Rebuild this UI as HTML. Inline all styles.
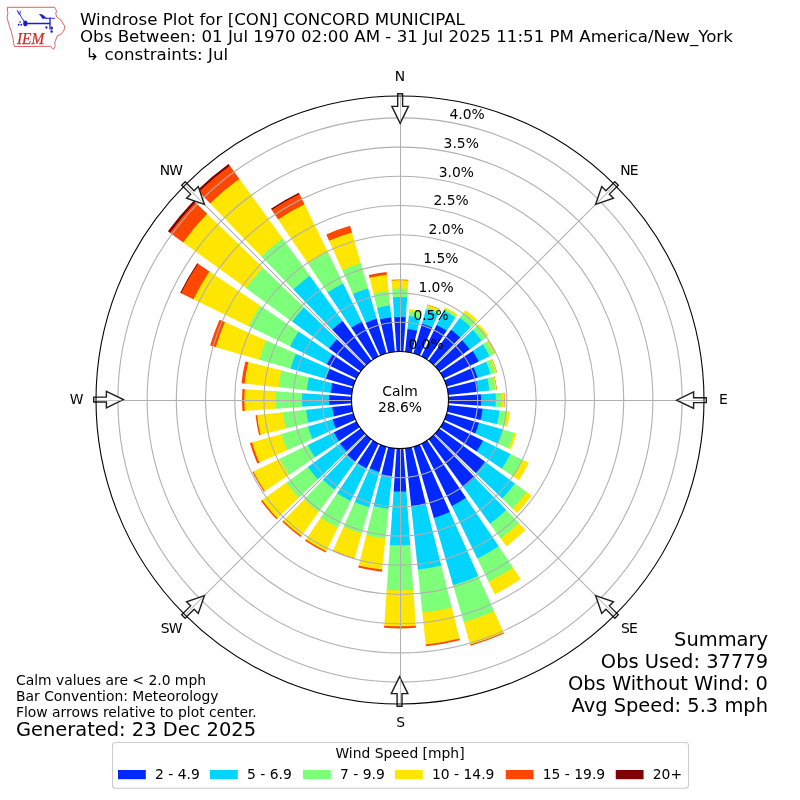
<!DOCTYPE html>
<html lang="en">
<head>
<meta charset="utf-8">
<title>Windrose Plot for [CON] CONCORD MUNICIPAL</title>
<style>
html,body{margin:0;padding:0;background:#fff;}
body{width:800px;height:800px;overflow:hidden;font-family:"DejaVu Sans","Liberation Sans",sans-serif;}
svg{display:block;}
</style>
</head>
<body>
<svg width="800" height="800" viewBox="0 0 800 800">
<rect width="800" height="800" fill="#fff"/>
<g id="bars">
<path d="M391.67 280.93A119.36 119.36 0 0 1 408.33 280.93L408.41 279.67A120.62 120.62 0 0 0 391.59 279.67Z" fill="#ff4700"/>
<path d="M392.25 289.20A111.07 111.07 0 0 1 407.75 289.20L408.36 280.43A119.86 119.86 0 0 0 391.64 280.43Z" fill="#ffe600"/>
<path d="M392.84 297.65A102.60 102.60 0 0 1 407.16 297.65L407.78 288.70A111.57 111.57 0 0 0 392.22 288.70Z" fill="#7dff7a"/>
<path d="M394.25 317.74A82.46 82.46 0 0 1 405.75 317.74L407.19 297.15A103.10 103.10 0 0 0 392.81 297.15Z" fill="#00d4ff"/>
<path d="M396.64 351.92A48.20 48.20 0 0 1 403.36 351.92L405.79 317.25A82.96 82.96 0 0 0 394.21 317.25Z" fill="#0028ff"/>
<path d="M409.34 311.14A89.35 89.35 0 0 1 421.62 313.31L422.15 311.18A91.54 91.54 0 0 0 409.57 308.96Z" fill="#ffe600"/>
<path d="M408.77 316.54A83.92 83.92 0 0 1 420.30 318.58L421.74 312.82A89.85 89.85 0 0 0 409.39 310.64Z" fill="#7dff7a"/>
<path d="M407.40 329.61A70.78 70.78 0 0 1 417.12 331.33L420.42 318.09A84.42 84.42 0 0 0 408.82 316.05Z" fill="#00d4ff"/>
<path d="M405.04 352.06A48.20 48.20 0 0 1 411.66 353.23L417.24 330.84A71.28 71.28 0 0 0 407.45 329.11Z" fill="#0028ff"/>
<path d="M427.14 305.36A98.46 98.46 0 0 1 440.05 310.05L440.37 309.33A99.25 99.25 0 0 0 427.36 304.60Z" fill="#ff4700"/>
<path d="M426.46 307.71A96.00 96.00 0 0 1 439.05 312.30L440.25 309.60A98.96 98.96 0 0 0 427.28 304.88Z" fill="#ffe600"/>
<path d="M425.71 310.35A93.26 93.26 0 0 1 437.93 314.80L439.25 311.84A96.50 96.50 0 0 0 426.60 307.23Z" fill="#7dff7a"/>
<path d="M421.76 324.11A78.95 78.95 0 0 1 432.11 327.87L438.14 314.35A93.76 93.76 0 0 0 425.84 309.87Z" fill="#00d4ff"/>
<path d="M413.29 353.67A48.20 48.20 0 0 1 419.60 355.97L432.32 327.42A79.45 79.45 0 0 0 421.90 323.63Z" fill="#0028ff"/>
<path d="M444.34 309.09A101.14 101.14 0 0 1 456.56 316.15L457.66 314.52A103.10 103.10 0 0 0 445.20 307.33Z" fill="#ffe600"/>
<path d="M443.31 311.19A98.81 98.81 0 0 1 455.25 318.08L456.84 315.73A101.64 101.64 0 0 0 444.56 308.64Z" fill="#7dff7a"/>
<path d="M436.40 325.36A83.04 83.04 0 0 1 446.44 331.16L455.53 317.67A99.31 99.31 0 0 0 443.53 310.74Z" fill="#00d4ff"/>
<path d="M421.13 356.68A48.20 48.20 0 0 1 426.95 360.04L446.71 330.74A83.54 83.54 0 0 0 436.62 324.91Z" fill="#0028ff"/>
<path d="M463.23 312.98A107.57 107.57 0 0 1 474.72 322.62L477.26 319.99A111.22 111.22 0 0 0 465.37 310.02Z" fill="#ffe600"/>
<path d="M459.45 318.17A101.14 101.14 0 0 1 470.26 327.24L475.07 322.26A108.07 108.07 0 0 0 463.52 312.57Z" fill="#7dff7a"/>
<path d="M450.70 330.22A86.25 86.25 0 0 1 459.92 337.96L470.61 326.88A101.64 101.64 0 0 0 459.74 317.77Z" fill="#00d4ff"/>
<path d="M428.33 361.01A48.20 48.20 0 0 1 433.48 365.33L460.26 337.60A86.75 86.75 0 0 0 450.99 329.82Z" fill="#0028ff"/>
<path d="M476.54 326.09A106.40 106.40 0 0 1 486.08 337.46L488.61 335.62A109.53 109.53 0 0 0 478.79 323.92Z" fill="#ffe600"/>
<path d="M472.34 330.15A100.56 100.56 0 0 1 481.35 340.89L486.48 337.17A106.90 106.90 0 0 0 476.90 325.74Z" fill="#7dff7a"/>
<path d="M461.62 340.49A85.67 85.67 0 0 1 469.31 349.65L481.76 340.60A101.06 101.06 0 0 0 472.70 329.80Z" fill="#00d4ff"/>
<path d="M434.67 366.52A48.20 48.20 0 0 1 438.99 371.67L469.71 349.35A86.17 86.17 0 0 0 461.98 340.14Z" fill="#0028ff"/>
<path d="M487.43 341.02A105.47 105.47 0 0 1 494.79 353.77L495.50 353.42A106.26 106.26 0 0 0 488.09 340.58Z" fill="#ff4700"/>
<path d="M486.42 341.71A104.24 104.24 0 0 1 493.69 354.30L495.24 353.55A105.97 105.97 0 0 0 487.85 340.74Z" fill="#ffe600"/>
<path d="M482.25 344.52A99.22 99.22 0 0 1 489.18 356.51L494.14 354.09A104.74 104.74 0 0 0 486.83 341.43Z" fill="#7dff7a"/>
<path d="M472.23 351.28A87.13 87.13 0 0 1 478.31 361.81L489.62 356.29A99.72 99.72 0 0 0 482.67 344.24Z" fill="#00d4ff"/>
<path d="M439.96 373.05A48.20 48.20 0 0 1 443.32 378.87L478.76 361.59A87.63 87.63 0 0 0 472.65 351.00Z" fill="#0028ff"/>
<path d="M491.49 359.26A100.15 100.15 0 0 1 496.27 372.39L496.98 372.19A100.88 100.88 0 0 0 492.16 358.97Z" fill="#ff4700"/>
<path d="M490.16 359.86A98.69 98.69 0 0 1 494.87 372.80L496.75 372.26A100.65 100.65 0 0 0 491.95 359.06Z" fill="#ffe600"/>
<path d="M485.68 361.85A93.79 93.79 0 0 1 490.15 374.15L495.35 372.66A99.19 99.19 0 0 0 490.62 359.66Z" fill="#7dff7a"/>
<path d="M473.19 367.41A80.12 80.12 0 0 1 477.02 377.92L490.63 374.01A94.29 94.29 0 0 0 486.13 361.65Z" fill="#00d4ff"/>
<path d="M444.03 380.40A48.20 48.20 0 0 1 446.33 386.71L477.50 377.78A80.62 80.62 0 0 0 473.65 367.21Z" fill="#0028ff"/>
<path d="M493.83 376.60A96.71 96.71 0 0 1 496.18 389.89L496.96 389.81A97.50 97.50 0 0 0 494.60 376.41Z" fill="#ff4700"/>
<path d="M492.64 376.90A95.48 95.48 0 0 1 494.96 390.02L496.67 389.84A97.21 97.21 0 0 0 494.32 376.48Z" fill="#ffe600"/>
<path d="M486.86 378.34A89.52 89.52 0 0 1 489.03 390.64L495.45 389.97A95.98 95.98 0 0 0 493.13 376.78Z" fill="#7dff7a"/>
<path d="M475.76 381.11A78.08 78.08 0 0 1 477.65 391.84L489.53 390.59A90.02 90.02 0 0 0 487.35 378.22Z" fill="#00d4ff"/>
<path d="M446.77 388.34A48.20 48.20 0 0 1 447.94 394.96L478.15 391.79A78.58 78.58 0 0 0 476.24 380.99Z" fill="#0028ff"/>
<path d="M503.52 392.76A103.77 103.77 0 0 1 503.52 407.24L504.37 407.30A104.62 104.62 0 0 0 504.37 392.70Z" fill="#ff4700"/>
<path d="M500.78 392.95A101.03 101.03 0 0 1 500.78 407.05L504.02 407.27A104.27 104.27 0 0 0 504.02 392.73Z" fill="#ffe600"/>
<path d="M495.13 393.35A95.36 95.36 0 0 1 495.13 406.65L501.28 407.08A101.53 101.53 0 0 0 501.28 392.92Z" fill="#7dff7a"/>
<path d="M480.33 394.38A80.53 80.53 0 0 1 480.33 405.62L495.63 406.69A95.86 95.86 0 0 0 495.63 393.31Z" fill="#00d4ff"/>
<path d="M448.08 396.64A48.20 48.20 0 0 1 448.08 403.36L480.83 405.65A81.03 81.03 0 0 0 480.83 394.35Z" fill="#0028ff"/>
<path d="M506.51 411.20A107.10 107.10 0 0 1 503.92 425.91L507.29 426.75A110.58 110.58 0 0 0 509.97 411.56Z" fill="#ffe600"/>
<path d="M498.96 410.40A99.51 99.51 0 0 1 496.55 424.07L504.40 426.03A107.60 107.60 0 0 0 507.01 411.25Z" fill="#7dff7a"/>
<path d="M482.00 408.62A82.46 82.46 0 0 1 480.01 419.95L497.04 424.19A100.01 100.01 0 0 0 499.46 410.45Z" fill="#00d4ff"/>
<path d="M447.94 405.04A48.20 48.20 0 0 1 446.77 411.66L480.49 420.07A82.96 82.96 0 0 0 482.50 408.67Z" fill="#0028ff"/>
<path d="M513.51 432.55A118.08 118.08 0 0 1 507.87 448.03L510.78 449.32A121.27 121.27 0 0 0 516.57 433.43Z" fill="#ffe600"/>
<path d="M502.73 429.46A106.87 106.87 0 0 1 497.63 443.47L508.33 448.23A118.58 118.58 0 0 0 513.99 432.69Z" fill="#7dff7a"/>
<path d="M478.48 422.50A81.64 81.64 0 0 1 474.58 433.21L498.08 443.67A107.37 107.37 0 0 0 503.21 429.59Z" fill="#00d4ff"/>
<path d="M446.33 413.29A48.20 48.20 0 0 1 444.03 419.60L475.04 433.41A82.14 82.14 0 0 0 478.96 422.64Z" fill="#0028ff"/>
<path d="M522.40 459.70A136.18 136.18 0 0 1 512.90 476.15L518.88 480.19A143.40 143.40 0 0 0 528.89 462.86Z" fill="#ffe600"/>
<path d="M510.01 453.66A122.40 122.40 0 0 1 501.48 468.45L513.32 476.43A136.68 136.68 0 0 0 522.85 459.92Z" fill="#7dff7a"/>
<path d="M482.51 440.24A91.80 91.80 0 0 1 476.11 451.33L501.89 468.73A122.90 122.90 0 0 0 510.46 453.88Z" fill="#00d4ff"/>
<path d="M443.32 421.13A48.20 48.20 0 0 1 439.96 426.95L476.52 451.61A92.30 92.30 0 0 0 482.96 440.46Z" fill="#0028ff"/>
<path d="M526.24 491.72A156.04 156.04 0 0 1 512.25 508.39L517.02 513.00A162.67 162.67 0 0 0 531.60 495.62Z" fill="#ffe600"/>
<path d="M514.43 483.14A141.44 141.44 0 0 1 501.74 498.25L512.61 508.74A156.54 156.54 0 0 0 526.64 492.01Z" fill="#7dff7a"/>
<path d="M484.66 461.51A104.65 104.65 0 0 1 475.28 472.69L502.10 498.60A141.94 141.94 0 0 0 514.83 483.43Z" fill="#00d4ff"/>
<path d="M438.99 428.33A48.20 48.20 0 0 1 434.67 433.48L475.64 473.04A105.15 105.15 0 0 0 485.07 461.80Z" fill="#0028ff"/>
<path d="M518.54 522.75A170.64 170.64 0 0 1 500.30 538.05L506.26 546.25A180.78 180.78 0 0 0 525.58 530.04Z" fill="#ffe600"/>
<path d="M505.96 509.73A152.54 152.54 0 0 1 489.66 523.40L500.59 538.46A171.14 171.14 0 0 0 518.88 523.11Z" fill="#7dff7a"/>
<path d="M474.32 476.96A106.98 106.98 0 0 1 462.88 486.55L489.95 523.81A153.04 153.04 0 0 0 506.31 510.08Z" fill="#00d4ff"/>
<path d="M433.48 434.67A48.20 48.20 0 0 1 428.33 438.99L463.18 486.96A107.48 107.48 0 0 0 474.66 477.32Z" fill="#0028ff"/>
<path d="M512.73 567.13A201.59 201.59 0 0 1 488.37 581.19L494.68 594.13A215.99 215.99 0 0 0 520.78 579.06Z" fill="#ffe600"/>
<path d="M498.36 545.82A175.90 175.90 0 0 1 477.11 558.09L488.59 581.64A202.09 202.09 0 0 0 513.01 567.54Z" fill="#7dff7a"/>
<path d="M465.70 497.41A117.50 117.50 0 0 1 451.51 505.60L477.33 558.54A176.40 176.40 0 0 0 498.64 546.24Z" fill="#00d4ff"/>
<path d="M426.95 439.96A48.20 48.20 0 0 1 421.13 443.32L451.73 506.05A118.00 118.00 0 0 0 465.98 497.82Z" fill="#0028ff"/>
<path d="M503.30 632.02A253.98 253.98 0 0 1 470.01 644.14L470.43 645.63A255.53 255.53 0 0 0 503.93 633.44Z" fill="#ff4700"/>
<path d="M493.87 610.84A230.79 230.79 0 0 1 463.61 621.85L470.14 644.62A254.48 254.48 0 0 0 503.51 632.48Z" fill="#ffe600"/>
<path d="M478.15 575.52A192.13 192.13 0 0 1 452.96 584.69L463.75 622.33A231.29 231.29 0 0 0 494.07 611.30Z" fill="#7dff7a"/>
<path d="M449.69 511.61A122.17 122.17 0 0 1 433.67 517.44L453.10 585.17A192.63 192.63 0 0 0 478.35 575.98Z" fill="#00d4ff"/>
<path d="M419.60 444.03A48.20 48.20 0 0 1 413.29 446.33L433.81 517.92A122.67 122.67 0 0 0 449.89 512.06Z" fill="#0028ff"/>
<path d="M459.37 638.10A245.39 245.39 0 0 1 425.65 644.05L425.89 646.29A247.64 247.64 0 0 0 459.91 640.29Z" fill="#ff4700"/>
<path d="M451.60 606.94A213.27 213.27 0 0 1 422.29 612.10L425.70 644.54A245.89 245.89 0 0 0 459.49 638.59Z" fill="#ffe600"/>
<path d="M441.14 565.00A170.06 170.06 0 0 1 417.78 569.12L422.35 612.60A213.77 213.77 0 0 0 451.72 607.42Z" fill="#7dff7a"/>
<path d="M425.74 503.24A106.40 106.40 0 0 1 411.12 505.82L417.83 569.62A170.56 170.56 0 0 0 441.26 565.49Z" fill="#00d4ff"/>
<path d="M411.66 446.77A48.20 48.20 0 0 1 405.04 447.94L411.17 506.31A106.90 106.90 0 0 0 425.86 503.72Z" fill="#0028ff"/>
<path d="M415.75 625.28A225.83 225.83 0 0 1 384.25 625.28L384.07 627.82A228.37 228.37 0 0 0 415.93 627.82Z" fill="#ff4700"/>
<path d="M413.26 589.62A190.09 190.09 0 0 1 386.74 589.62L384.21 625.78A226.33 226.33 0 0 0 415.79 625.78Z" fill="#ffe600"/>
<path d="M410.10 544.42A144.77 144.77 0 0 1 389.90 544.42L386.71 590.12A190.59 190.59 0 0 0 413.29 590.12Z" fill="#7dff7a"/>
<path d="M406.35 490.88A91.10 91.10 0 0 1 393.65 490.88L389.87 544.91A145.27 145.27 0 0 0 410.13 544.91Z" fill="#00d4ff"/>
<path d="M403.36 448.08A48.20 48.20 0 0 1 396.64 448.08L393.61 491.38A91.60 91.60 0 0 0 406.39 491.38Z" fill="#0028ff"/>
<path d="M382.22 569.12A170.06 170.06 0 0 1 358.86 565.00L358.22 567.59A172.72 172.72 0 0 0 381.95 571.77Z" fill="#ff4700"/>
<path d="M385.50 537.94A138.70 138.70 0 0 1 366.45 534.58L358.74 565.49A170.56 170.56 0 0 0 382.17 569.62Z" fill="#ffe600"/>
<path d="M388.63 508.14A108.74 108.74 0 0 1 373.69 505.51L366.33 535.06A139.20 139.20 0 0 0 385.45 538.43Z" fill="#7dff7a"/>
<path d="M392.05 475.62A76.03 76.03 0 0 1 381.61 473.77L373.57 505.99A109.24 109.24 0 0 0 388.58 508.64Z" fill="#00d4ff"/>
<path d="M394.96 447.94A48.20 48.20 0 0 1 388.34 446.77L381.49 474.26A76.53 76.53 0 0 0 392.00 476.11Z" fill="#0028ff"/>
<path d="M354.80 557.63A163.98 163.98 0 0 1 333.30 549.81L332.93 550.64A164.89 164.89 0 0 0 354.55 558.50Z" fill="#ff4700"/>
<path d="M361.90 532.87A138.23 138.23 0 0 1 343.78 526.28L333.10 550.26A164.48 164.48 0 0 0 354.66 558.11Z" fill="#ffe600"/>
<path d="M369.38 506.77A111.07 111.07 0 0 1 354.82 501.47L343.57 526.73A138.73 138.73 0 0 0 361.76 533.35Z" fill="#7dff7a"/>
<path d="M379.53 471.40A74.28 74.28 0 0 1 369.79 467.86L354.62 501.93A111.57 111.57 0 0 0 369.25 507.25Z" fill="#00d4ff"/>
<path d="M386.71 446.33A48.20 48.20 0 0 1 380.40 444.03L369.58 468.31A74.78 74.78 0 0 0 379.39 471.88Z" fill="#0028ff"/>
<path d="M326.48 550.75A167.72 167.72 0 0 1 306.21 539.05L305.05 540.77A169.80 169.80 0 0 0 325.57 552.61Z" fill="#ff4700"/>
<path d="M338.00 527.13A141.44 141.44 0 0 1 320.91 517.26L305.93 539.46A168.22 168.22 0 0 0 326.26 551.20Z" fill="#ffe600"/>
<path d="M350.93 500.62A111.95 111.95 0 0 1 337.40 492.81L320.63 517.67A141.94 141.94 0 0 0 337.78 527.57Z" fill="#7dff7a"/>
<path d="M366.93 467.81A75.45 75.45 0 0 1 357.81 462.55L337.12 493.22A112.45 112.45 0 0 0 350.71 501.07Z" fill="#00d4ff"/>
<path d="M378.87 443.32A48.20 48.20 0 0 1 373.05 439.96L357.53 462.96A75.95 75.95 0 0 0 366.71 468.26Z" fill="#0028ff"/>
<path d="M301.66 535.36A167.31 167.31 0 0 1 283.78 520.35L282.33 521.85A169.39 169.39 0 0 0 300.44 537.04Z" fill="#ff4700"/>
<path d="M318.96 511.55A137.88 137.88 0 0 1 304.22 499.18L283.43 520.71A167.81 167.81 0 0 0 301.36 535.76Z" fill="#ffe600"/>
<path d="M335.06 489.39A110.49 110.49 0 0 1 323.25 479.48L303.87 499.54A138.38 138.38 0 0 0 318.66 511.95Z" fill="#7dff7a"/>
<path d="M355.65 461.04A75.45 75.45 0 0 1 347.59 454.27L322.90 479.84A110.99 110.99 0 0 0 334.76 489.79Z" fill="#00d4ff"/>
<path d="M371.67 438.99A48.20 48.20 0 0 1 366.52 434.67L347.24 454.63A75.95 75.95 0 0 0 355.36 461.44Z" fill="#0028ff"/>
<path d="M277.88 517.93A169.76 169.76 0 0 1 262.66 499.78L261.07 500.94A171.72 171.72 0 0 0 276.47 519.29Z" fill="#ff4700"/>
<path d="M299.22 497.32A140.10 140.10 0 0 1 286.66 482.35L262.25 500.08A170.26 170.26 0 0 0 277.52 518.28Z" fill="#ffe600"/>
<path d="M318.42 478.78A113.41 113.41 0 0 1 308.25 466.66L286.25 482.64A140.60 140.60 0 0 0 298.86 497.67Z" fill="#7dff7a"/>
<path d="M346.99 451.19A73.70 73.70 0 0 1 340.38 443.32L307.85 466.95A113.91 113.91 0 0 0 318.06 479.13Z" fill="#00d4ff"/>
<path d="M365.33 433.48A48.20 48.20 0 0 1 361.01 428.33L339.97 443.61A74.20 74.20 0 0 0 346.63 451.54Z" fill="#0028ff"/>
<path d="M265.21 490.91A162.58 162.58 0 0 1 253.87 471.27L252.48 471.95A164.13 164.13 0 0 0 263.93 491.78Z" fill="#ff4700"/>
<path d="M289.37 474.62A133.44 133.44 0 0 1 280.07 458.50L253.42 471.49A163.08 163.08 0 0 0 264.80 491.19Z" fill="#ffe600"/>
<path d="M315.37 457.08A102.08 102.08 0 0 1 308.25 444.75L279.62 458.72A133.94 133.94 0 0 0 288.96 474.90Z" fill="#7dff7a"/>
<path d="M339.39 440.88A73.11 73.11 0 0 1 334.29 432.05L307.80 444.97A102.58 102.58 0 0 0 314.96 457.36Z" fill="#00d4ff"/>
<path d="M360.04 426.95A48.20 48.20 0 0 1 356.68 421.13L333.84 432.27A73.61 73.61 0 0 0 338.97 441.16Z" fill="#0028ff"/>
<path d="M259.85 462.40A153.41 153.41 0 0 1 252.53 442.29L249.92 443.04A156.13 156.13 0 0 0 257.37 463.50Z" fill="#ff4700"/>
<path d="M287.65 450.02A122.99 122.99 0 0 1 281.78 433.90L252.05 442.42A153.91 153.91 0 0 0 259.39 462.60Z" fill="#ffe600"/>
<path d="M312.94 438.76A95.30 95.30 0 0 1 308.39 426.27L281.30 434.04A123.49 123.49 0 0 0 287.19 450.23Z" fill="#7dff7a"/>
<path d="M336.30 428.36A69.72 69.72 0 0 1 332.98 419.22L307.91 426.41A95.80 95.80 0 0 0 312.48 438.97Z" fill="#00d4ff"/>
<path d="M355.97 419.60A48.20 48.20 0 0 1 353.67 413.29L332.50 419.36A70.22 70.22 0 0 0 335.85 428.56Z" fill="#0028ff"/>
<path d="M261.06 434.64A143.19 143.19 0 0 1 257.59 414.97L255.59 415.18A145.21 145.21 0 0 0 259.10 435.13Z" fill="#ff4700"/>
<path d="M286.16 428.38A117.32 117.32 0 0 1 283.32 412.26L257.10 415.02A143.69 143.69 0 0 0 260.58 434.76Z" fill="#ffe600"/>
<path d="M308.89 422.72A93.90 93.90 0 0 1 306.61 409.82L282.82 412.32A117.82 117.82 0 0 0 285.68 428.50Z" fill="#7dff7a"/>
<path d="M334.44 416.35A67.56 67.56 0 0 1 332.81 407.06L306.11 409.87A94.40 94.40 0 0 0 308.40 422.84Z" fill="#00d4ff"/>
<path d="M353.23 411.66A48.20 48.20 0 0 1 352.06 405.04L332.31 407.11A68.06 68.06 0 0 0 333.96 416.47Z" fill="#0028ff"/>
<path d="M245.27 410.82A155.11 155.11 0 0 1 245.27 389.18L242.38 388.98A158.00 158.00 0 0 0 242.38 411.02Z" fill="#ff4700"/>
<path d="M276.38 408.64A123.92 123.92 0 0 1 276.38 391.36L244.77 389.15A155.61 155.61 0 0 0 244.77 410.85Z" fill="#ffe600"/>
<path d="M302.71 406.80A97.52 97.52 0 0 1 302.71 393.20L275.88 391.32A124.42 124.42 0 0 0 275.88 408.68Z" fill="#7dff7a"/>
<path d="M329.69 404.92A70.48 70.48 0 0 1 329.69 395.08L302.22 393.16A98.02 98.02 0 0 0 302.22 406.84Z" fill="#00d4ff"/>
<path d="M351.92 403.36A48.20 48.20 0 0 1 351.92 396.64L329.19 395.05A70.98 70.98 0 0 0 329.19 404.95Z" fill="#0028ff"/>
<path d="M245.11 383.72A155.75 155.75 0 0 1 248.88 362.32L245.33 361.44A159.40 159.40 0 0 0 241.47 383.34Z" fill="#ff4700"/>
<path d="M278.97 387.28A121.70 121.70 0 0 1 281.91 370.56L248.39 362.20A156.25 156.25 0 0 0 244.61 383.67Z" fill="#ffe600"/>
<path d="M307.25 390.25A93.26 93.26 0 0 1 309.51 377.44L281.43 370.44A122.20 122.20 0 0 0 278.47 387.23Z" fill="#7dff7a"/>
<path d="M331.06 392.75A69.32 69.32 0 0 1 332.74 383.23L309.03 377.32A93.76 93.76 0 0 0 306.75 390.20Z" fill="#00d4ff"/>
<path d="M352.06 394.96A48.20 48.20 0 0 1 353.23 388.34L332.26 383.11A69.82 69.82 0 0 0 330.57 392.70Z" fill="#0028ff"/>
<path d="M216.32 347.33A191.08 191.08 0 0 1 225.44 322.28L219.54 319.65A197.54 197.54 0 0 0 210.12 345.55Z" fill="#ff4700"/>
<path d="M259.77 359.79A145.88 145.88 0 0 1 266.73 340.67L224.98 322.08A191.58 191.58 0 0 0 215.84 347.19Z" fill="#ffe600"/>
<path d="M290.99 368.74A113.41 113.41 0 0 1 296.40 353.87L266.28 340.46A146.38 146.38 0 0 0 259.29 359.65Z" fill="#7dff7a"/>
<path d="M326.35 378.88A76.62 76.62 0 0 1 330.01 368.84L295.94 353.67A113.91 113.91 0 0 0 290.50 368.60Z" fill="#00d4ff"/>
<path d="M353.67 386.71A48.20 48.20 0 0 1 355.97 380.40L329.55 368.63A77.12 77.12 0 0 0 325.87 378.74Z" fill="#0028ff"/>
<path d="M181.54 293.45A243.06 243.06 0 0 1 198.50 264.08L197.26 263.25A244.55 244.55 0 0 0 180.20 292.80Z" fill="#800000"/>
<path d="M193.88 299.47A229.33 229.33 0 0 1 209.88 271.76L198.08 263.81A243.56 243.56 0 0 0 181.09 293.23Z" fill="#ff4700"/>
<path d="M249.10 326.40A167.90 167.90 0 0 1 260.81 306.11L209.46 271.48A229.83 229.83 0 0 0 193.43 299.25Z" fill="#ffe600"/>
<path d="M290.51 346.60A121.82 121.82 0 0 1 299.01 331.88L260.39 305.83A168.40 168.40 0 0 0 248.65 326.18Z" fill="#7dff7a"/>
<path d="M327.20 364.49A81.00 81.00 0 0 1 332.85 354.71L298.59 331.60A122.32 122.32 0 0 0 290.06 346.38Z" fill="#00d4ff"/>
<path d="M356.68 378.87A48.20 48.20 0 0 1 360.04 373.05L332.44 354.43A81.50 81.50 0 0 0 326.75 364.27Z" fill="#0028ff"/>
<path d="M170.29 233.11A283.94 283.94 0 0 1 195.75 202.76L193.63 200.71A286.89 286.89 0 0 0 167.90 231.37Z" fill="#800000"/>
<path d="M183.52 242.72A267.58 267.58 0 0 1 207.52 214.12L195.39 202.41A284.44 284.44 0 0 0 169.89 232.81Z" fill="#ff4700"/>
<path d="M246.36 288.37A189.91 189.91 0 0 1 263.39 268.08L207.16 213.77A268.08 268.08 0 0 0 183.12 242.42Z" fill="#ffe600"/>
<path d="M292.47 321.88A132.91 132.91 0 0 1 304.39 307.67L263.03 267.73A190.41 190.41 0 0 0 245.95 288.08Z" fill="#7dff7a"/>
<path d="M329.51 348.79A87.13 87.13 0 0 1 337.33 339.48L304.03 307.32A133.41 133.41 0 0 0 292.07 321.58Z" fill="#00d4ff"/>
<path d="M361.01 371.67A48.20 48.20 0 0 1 365.33 366.52L336.97 339.13A87.63 87.63 0 0 0 329.11 348.49Z" fill="#0028ff"/>
<path d="M199.31 192.18A288.90 288.90 0 0 1 230.19 166.27L228.52 163.98A291.74 291.74 0 0 0 197.34 190.14Z" fill="#800000"/>
<path d="M210.47 203.74A272.84 272.84 0 0 1 239.63 179.27L229.89 165.87A289.40 289.40 0 0 0 198.97 191.82Z" fill="#ff4700"/>
<path d="M261.67 256.75A199.14 199.14 0 0 1 282.95 238.89L239.33 178.86A273.34 273.34 0 0 0 210.12 203.38Z" fill="#ffe600"/>
<path d="M293.63 289.85A153.12 153.12 0 0 1 310.00 276.12L282.66 238.49A199.64 199.64 0 0 0 261.32 256.39Z" fill="#7dff7a"/>
<path d="M332.58 330.18A97.06 97.06 0 0 1 342.95 321.48L309.70 275.72A153.62 153.62 0 0 0 293.29 289.50Z" fill="#00d4ff"/>
<path d="M366.52 365.33A48.20 48.20 0 0 1 371.67 361.01L342.66 321.08A97.56 97.56 0 0 0 332.23 329.82Z" fill="#0028ff"/>
<path d="M272.09 210.36A228.75 228.75 0 0 1 299.72 194.40L298.86 192.64A230.71 230.71 0 0 0 270.99 208.73Z" fill="#800000"/>
<path d="M278.45 219.80A217.36 217.36 0 0 1 304.72 204.64L299.50 193.95A229.25 229.25 0 0 0 271.81 209.94Z" fill="#ff4700"/>
<path d="M308.33 264.10A163.92 163.92 0 0 1 328.14 252.67L304.50 204.19A217.86 217.86 0 0 0 278.17 219.39Z" fill="#ffe600"/>
<path d="M327.77 292.91A129.18 129.18 0 0 1 343.37 283.90L327.92 252.22A164.42 164.42 0 0 0 308.06 263.69Z" fill="#7dff7a"/>
<path d="M351.61 328.25A86.54 86.54 0 0 1 362.06 322.21L343.15 283.45A129.68 129.68 0 0 0 327.49 292.49Z" fill="#00d4ff"/>
<path d="M373.05 360.04A48.20 48.20 0 0 1 378.87 356.68L361.84 321.77A87.04 87.04 0 0 0 351.33 327.84Z" fill="#0028ff"/>
<path d="M329.29 241.18A173.85 173.85 0 0 1 352.08 232.88L350.06 225.83A181.18 181.18 0 0 0 326.31 234.48Z" fill="#ff4700"/>
<path d="M342.35 270.52A141.73 141.73 0 0 1 360.93 263.76L351.94 232.40A174.35 174.35 0 0 0 329.08 240.72Z" fill="#ffe600"/>
<path d="M353.04 294.53A115.45 115.45 0 0 1 368.18 289.02L360.80 263.28A142.23 142.23 0 0 0 342.15 270.06Z" fill="#7dff7a"/>
<path d="M365.87 323.34A83.92 83.92 0 0 1 376.87 319.33L368.04 288.54A115.95 115.95 0 0 0 352.84 294.07Z" fill="#00d4ff"/>
<path d="M380.40 355.97A48.20 48.20 0 0 1 386.71 353.67L376.73 318.85A84.42 84.42 0 0 0 365.66 322.88Z" fill="#0028ff"/>
<path d="M369.67 278.34A125.38 125.38 0 0 1 386.89 275.31L386.54 271.91A128.80 128.80 0 0 0 368.84 275.03Z" fill="#ff4700"/>
<path d="M373.62 294.21A109.03 109.03 0 0 1 388.60 291.57L386.84 274.81A125.88 125.88 0 0 0 369.55 277.86Z" fill="#ffe600"/>
<path d="M377.16 308.38A94.43 94.43 0 0 1 390.13 306.09L388.55 291.07A109.53 109.53 0 0 0 373.50 293.73Z" fill="#7dff7a"/>
<path d="M380.05 319.99A82.46 82.46 0 0 1 391.38 318.00L390.08 305.59A94.93 94.93 0 0 0 377.03 307.89Z" fill="#00d4ff"/>
<path d="M388.34 353.23A48.20 48.20 0 0 1 394.96 352.06L391.33 317.50A82.96 82.96 0 0 0 379.93 319.51Z" fill="#0028ff"/>
</g>
<g id="grid" fill="none" stroke="#b0b0b0" stroke-width="1.1">
<circle cx="400.0" cy="400.0" r="77.70"/>
<circle cx="400.0" cy="400.0" r="106.90"/>
<circle cx="400.0" cy="400.0" r="136.10"/>
<circle cx="400.0" cy="400.0" r="165.30"/>
<circle cx="400.0" cy="400.0" r="194.50"/>
<circle cx="400.0" cy="400.0" r="223.70"/>
<circle cx="400.0" cy="400.0" r="252.90"/>
<circle cx="400.0" cy="400.0" r="282.10"/>
<line x1="400.50" y1="351.50" x2="400.50" y2="96.00" stroke-width="1"/>
<line x1="434.29" y1="365.71" x2="614.96" y2="185.04"/>
<line x1="448.50" y1="400.50" x2="704.00" y2="400.50" stroke-width="1"/>
<line x1="434.29" y1="434.29" x2="614.96" y2="614.96"/>
<line x1="400.50" y1="448.50" x2="400.50" y2="704.00" stroke-width="1"/>
<line x1="365.71" y1="434.29" x2="185.04" y2="614.96"/>
<line x1="351.50" y1="400.50" x2="96.00" y2="400.50" stroke-width="1"/>
<line x1="365.71" y1="365.71" x2="185.04" y2="185.04"/>
</g>
<circle cx="400.0" cy="400.0" r="48.5" fill="#fff" stroke="#000" stroke-width="1.1"/>
<g id="arrows" fill="#fff" stroke="#1e1e1e" stroke-width="1.4" stroke-linejoin="miter">
<polygon points="397.70,93.70 402.60,93.70 402.60,106.40 408.45,106.40 400.15,123.40 391.85,106.40 397.70,106.40"/>
<polygon points="614.85,181.68 618.32,185.15 609.34,194.13 613.48,198.26 595.59,204.41 601.74,186.52 605.87,190.66"/>
<polygon points="706.30,397.75 706.30,402.65 693.60,402.65 693.60,408.50 676.60,400.20 693.60,391.90 693.60,397.75"/>
<polygon points="618.32,614.85 614.85,618.32 605.87,609.34 601.74,613.48 595.59,595.59 613.48,601.74 609.34,605.87"/>
<polygon points="402.00,706.30 397.10,706.30 397.10,693.60 391.25,693.60 399.55,676.60 407.85,693.60 402.00,693.60"/>
<polygon points="185.15,618.32 181.68,614.85 190.66,605.87 186.52,601.74 204.41,595.59 198.26,613.48 194.13,609.34"/>
<polygon points="93.70,402.00 93.70,397.10 106.40,397.10 106.40,391.25 123.40,399.55 106.40,407.85 106.40,402.00"/>
<polygon points="181.68,185.15 185.15,181.68 194.13,190.66 198.26,186.52 204.41,204.41 186.52,198.26 190.66,194.13"/>
</g>
<g stroke="#b0b0b0" stroke-width="1.1" opacity="0.75">
<line x1="400.50" y1="121.50" x2="400.50" y2="97.00" stroke-width="1"/>
<line x1="596.93" y1="203.07" x2="614.25" y2="185.75"/>
<line x1="678.50" y1="400.50" x2="703.00" y2="400.50" stroke-width="1"/>
<line x1="596.93" y1="596.93" x2="614.25" y2="614.25"/>
<line x1="400.50" y1="678.50" x2="400.50" y2="703.00" stroke-width="1"/>
<line x1="203.07" y1="596.93" x2="185.75" y2="614.25"/>
<line x1="121.50" y1="400.50" x2="97.00" y2="400.50" stroke-width="1"/>
<line x1="203.07" y1="203.07" x2="185.75" y2="185.75"/>
</g>
<circle cx="400.0" cy="400.0" r="304.0" fill="none" stroke="#000" stroke-width="1.1"/>
<g font-family="'DejaVu Sans', 'Liberation Sans', sans-serif" fill="#000">
<g font-size="13.89px" text-anchor="middle">
<text x="426.0" y="349">0.0%</text>
<text x="431.0" y="320">0.5%</text>
<text x="436.0" y="292">1.0%</text>
<text x="440.9" y="263">1.5%</text>
<text x="446.2" y="234">2.0%</text>
<text x="451.1" y="205">2.5%</text>
<text x="456.4" y="177">3.0%</text>
<text x="461.2" y="148">3.5%</text>
<text x="467.1" y="119">4.0%</text>
<text x="400" y="81">N</text>
<text x="629.0" y="175" letter-spacing="-0.8">NE</text>
<text x="723.3" y="404">E</text>
<text x="628.9" y="633" letter-spacing="-0.8">SE</text>
<text x="400.7" y="727">S</text>
<text x="171.20000000000002" y="633" letter-spacing="-0.8">SW</text>
<text x="76.6" y="404">W</text>
<text x="171.0" y="175" letter-spacing="-0.8">NW</text>
<text x="400" y="396">Calm</text><text x="400" y="412">28.6%</text>
</g>
<g font-size="16.67px">
<text x="80" y="24.7">Windrose Plot for [CON] CONCORD MUNICIPAL</text>
<text x="80" y="41.6">Obs Between: 01 Jul 1970 02:00 AM - 31 Jul 2025 11:51 PM America/New_York</text>
<text x="80" y="60.3" xml:space="preserve"> ↳ constraints: Jul</text>
</g>
<g font-size="13.89px">
<text x="16" y="684.7">Calm values are &lt; 2.0 mph</text>
<text x="16" y="700.6">Bar Convention: Meteorology</text>
<text x="16" y="716.6">Flow arrows relative to plot center.</text>
</g>
<text x="16" y="735.5" font-size="19.44px">Generated: 23 Dec 2025</text>
<g font-size="19.44px" text-anchor="end">
<text x="768" y="645.6">Summary</text>
<text x="768" y="667.5">Obs Used: 37779</text>
<text x="768" y="689.5">Obs Without Wind: 0</text>
<text x="768" y="711.5">Avg Speed: 5.3 mph</text>
</g>
<rect x="112.5" y="742.5" width="576" height="45.8" rx="3" ry="3" fill="#fff" stroke="#cccccc" stroke-width="1.1"/>
<text x="400" y="757.5" font-size="13.89px" text-anchor="middle">Wind Speed [mph]</text>
<rect x="118" y="770" width="27.8" height="9.2" fill="#0028ff"/>
<text x="155" y="778.6" font-size="13.89px">2 - 4.9</text>
<rect x="210" y="770" width="27.8" height="9.2" fill="#00d4ff"/>
<text x="247" y="778.6" font-size="13.89px">5 - 6.9</text>
<rect x="303" y="770" width="27.8" height="9.2" fill="#7dff7a"/>
<text x="340" y="778.6" font-size="13.89px">7 - 9.9</text>
<rect x="395" y="770" width="27.8" height="9.2" fill="#ffe600"/>
<text x="432" y="778.6" font-size="13.89px">10 - 14.9</text>
<rect x="505.75" y="770" width="27.8" height="9.2" fill="#ff4700"/>
<text x="542.75" y="778.6" font-size="13.89px">15 - 19.9</text>
<rect x="615.75" y="770" width="27.8" height="9.2" fill="#800000"/>
<text x="652.75" y="778.6" font-size="13.89px">20+</text>
</g>
<g id="logo">
<path d="M7.3 7.3L54.7 7.3L55.2 8.6L56.5 10.8L55.8 13.4L56.5 16.9L58.7 18.6L60.9 19.9L62.6 23L64.4 25.6L64.8 28.3L63.5 30.9L61.7 33.5L60 34.8L57.4 35.7L56.5 37.9L55.6 40.5L54.7 43.1L55.2 45.7L54.3 48.4L53 49.2L51.2 47.1L50.4 46.3L14.5 46.6L13.6 43.1L13.2 39.6L12.3 36.1L11.4 31.8L10.1 28.3L8.8 23.9L7.5 19.5L7.1 16.9L7.9 13.4L7.5 10.8Z" fill="#fff" stroke="#d94f4f" stroke-width="0.9" stroke-linejoin="round"/>
<g stroke="#1c1cd2" fill="#1c1cd2" stroke-linecap="round">
<ellipse cx="25.3" cy="23.4" rx="2.1" ry="2.8" stroke="none"/>
<line x1="25.3" y1="23.4" x2="49.6" y2="23.4" stroke-width="1.5"/>
<line x1="25.3" y1="23.4" x2="18.2" y2="11.8" stroke-width="0.9"/>
<path d="M17.3 10.4L18.6 13.4M20.2 11.2L20.2 13.6L19 14.2" stroke-width="0.8" fill="none"/>
<circle cx="20" cy="22.1" r="0.8" stroke="none"/><circle cx="18.7" cy="24.8" r="0.95" stroke="none"/><circle cx="21.3" cy="24.8" r="0.95" stroke="none"/>
<line x1="50" y1="18" x2="50" y2="29.2" stroke-width="1.3"/>
<line x1="46.5" y1="18.3" x2="54.5" y2="18.3" stroke-width="0.9"/>
<path d="M38.8 14.1C42 13.8 44 15.3 45.2 17L48 18.4L42.3 18.7C41.3 16.8 40.3 15.6 38.8 14.1Z" stroke="none"/>
<circle cx="46.4" cy="27.5" r="1.15" stroke="none"/><circle cx="51.8" cy="28" r="1.2" stroke="none"/><circle cx="51.6" cy="31.6" r="1.2" stroke="none"/>
<line x1="51.7" y1="27" x2="51.7" y2="32" stroke-width="0.7"/>
</g>
<text x="17" y="43.8" font-family="'Liberation Serif','DejaVu Serif',serif" font-style="italic" font-size="17.2px" fill="#cc2a2a" stroke="#cc2a2a" stroke-width="0.25" textLength="27.2" lengthAdjust="spacingAndGlyphs">IEM</text>
</g>

</svg>
</body>
</html>
